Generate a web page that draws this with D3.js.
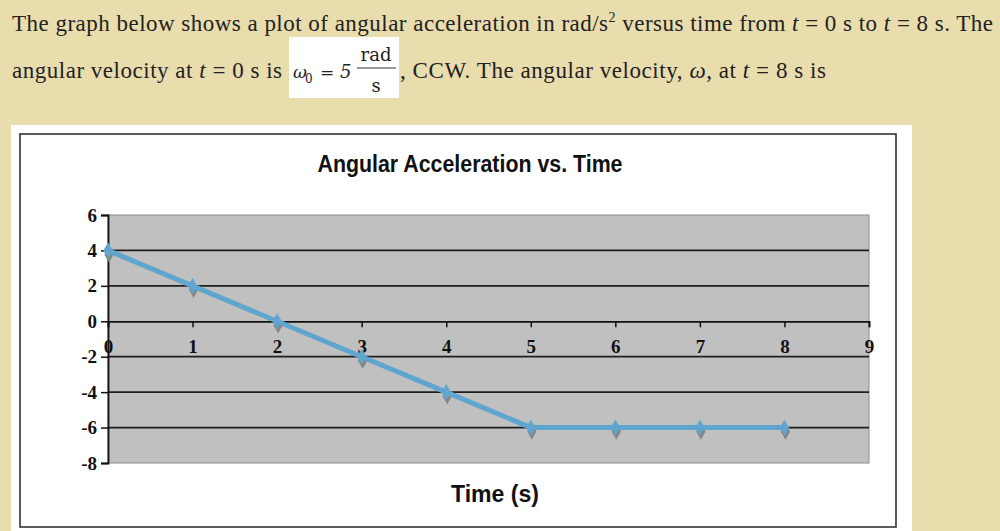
<!DOCTYPE html>
<html>
<head>
<meta charset="utf-8">
<script src="https://cdn.jsdelivr.net/npm/d3@7"></script>
<style>
  html, body { margin: 0; padding: 0; background: #e9dcad; }
  svg { display: block; }
</style>
</head>
<body>
<svg width="1000" height="531"></svg>
<script>
// data
const times = [0, 1, 2, 3, 4, 5, 6, 7, 8];
const alpha = [4, 2, 0, -2, -4, -6, -6, -6, -6];
const yTicks = [-8, -6, -4, -2, 0, 2, 4, 6];
const xTicks = [0, 1, 2, 3, 4, 5, 6, 7, 8, 9];
const gridVals = [4, 2, -2, -4, -6];

const svg = d3.select('svg');
const lineColour = '#5fa5cd';

// paper background
svg.append('rect').attr('width', 1000).attr('height', 531).attr('fill', '#e9dcad');

// question text
const serif = '"Liberation Serif", "Times New Roman", serif';
let t1 = svg.append('text').attr('x', 12).attr('y', 31)
  .attr('font-family', serif).attr('font-size', 23).attr('fill', '#222')
  .attr('textLength', 981).attr('lengthAdjust', 'spacing');
t1.append('tspan').text('The graph below shows a plot of angular acceleration in rad/s');
t1.append('tspan').attr('font-size', 14).attr('dy', -9).text('2');
t1.append('tspan').attr('dy', 9).text(' versus time from ');
t1.append('tspan').attr('font-style', 'italic').text('t');
t1.append('tspan').text(' = 0 s to ');
t1.append('tspan').attr('font-style', 'italic').text('t');
t1.append('tspan').text(' = 8 s. The');

let t2 = svg.append('text').attr('x', 12).attr('y', 78)
  .attr('font-family', serif).attr('font-size', 23).attr('fill', '#222')
  .attr('textLength', 270).attr('lengthAdjust', 'spacing');
t2.append('tspan').text('angular velocity at ');
t2.append('tspan').attr('font-style', 'italic').text('t');
t2.append('tspan').text(' = 0 s is');

let t3 = svg.append('text').attr('x', 400).attr('y', 78)
  .attr('font-family', serif).attr('font-size', 23).attr('fill', '#222')
  .attr('textLength', 426).attr('lengthAdjust', 'spacing');
t3.append('tspan').text(', CCW. The angular velocity, ');
t3.append('tspan').attr('font-style', 'italic').text('ω');
t3.append('tspan').text(', at ');
t3.append('tspan').attr('font-style', 'italic').text('t');
t3.append('tspan').text(' = 8 s is');

// formula box
const fx = svg.append('g');
fx.append('rect').attr('x', 289).attr('y', 37).attr('width', 110).attr('height', 61).attr('fill', '#fff');
const mathFont = '"DejaVu Serif", serif';
fx.append('text').attr('x', 293).attr('y', 78).attr('font-family', mathFont)
  .attr('font-style', 'italic').attr('font-size', 17).attr('fill', '#222').text('ω');
fx.append('text').attr('x', 305).attr('y', 83).attr('font-family', mathFont)
  .attr('font-size', 12).attr('fill', '#222').text('0');
fx.append('text').attr('x', 320).attr('y', 78).attr('font-family', mathFont)
  .attr('font-size', 17).attr('fill', '#222').text('=');
fx.append('text').attr('x', 340).attr('y', 78).attr('font-family', mathFont)
  .attr('font-style', 'italic').attr('font-size', 18).attr('fill', '#222').text('5');
fx.append('text').attr('x', 376).attr('y', 61).attr('text-anchor', 'middle').attr('font-family', mathFont)
  .attr('font-size', 18).attr('fill', '#222').text('rad');
fx.append('line').attr('x1', 357).attr('x2', 396).attr('y1', 68).attr('y2', 68)
  .attr('stroke', '#333').attr('stroke-width', 1.2);
fx.append('text').attr('x', 376).attr('y', 92).attr('text-anchor', 'middle').attr('font-family', mathFont)
  .attr('font-size', 18).attr('fill', '#222').text('s');

// chart frame
svg.append('rect').attr('x', 11).attr('y', 125).attr('width', 901).attr('height', 410).attr('fill', '#fff');
svg.append('rect').attr('x', 20).attr('y', 134).attr('width', 876).attr('height', 393)
  .attr('fill', 'none').attr('stroke', '#333').attr('stroke-width', 1.6);

const x = d3.scaleLinear().domain([0, 9]).range([108, 869]);
const y = d3.scaleLinear().domain([-8, 6]).range([463, 215]);

// plot area
svg.append('rect').attr('x', x(0)).attr('y', y(6)).attr('width', x(9) - x(0)).attr('height', y(-8) - y(6))
  .attr('fill', '#c0c0c0').attr('stroke', '#8c8c8c').attr('stroke-width', 1);

svg.append('g').selectAll('line').data(gridVals).join('line')
  .attr('x1', x(0)).attr('x2', x(9))
  .attr('y1', d => y(d)).attr('y2', d => y(d))
  .attr('stroke', '#1e1e1e').attr('stroke-width', 1.8);

const tickFont = '"Liberation Serif", "Times New Roman", serif';

const yAxis = svg.append('g').attr('transform', `translate(${x(0)},0)`)
  .call(d3.axisLeft(y).tickValues(yTicks).tickSize(7).tickPadding(4).tickFormat(d => String(d)));
yAxis.select('.domain').attr('stroke', '#111').attr('stroke-width', 1.8);
yAxis.selectAll('.tick line').attr('stroke', '#111').attr('stroke-width', 1.5);
yAxis.selectAll('text').attr('font-family', tickFont).attr('font-weight', 'bold')
  .attr('font-size', 19).attr('fill', '#111');

const xAxis = svg.append('g').attr('transform', `translate(0,${y(0)})`)
  .call(d3.axisBottom(x).tickValues(xTicks).tickSize(6).tickPadding(12).tickFormat(d => String(d)));
xAxis.select('.domain').attr('stroke', '#111').attr('stroke-width', 1.8);
xAxis.selectAll('.tick line').attr('stroke', '#111').attr('stroke-width', 1.5);
xAxis.selectAll('text').attr('font-family', tickFont).attr('font-weight', 'bold')
  .attr('font-size', 19).attr('fill', '#111');

// series
const pts = times.map((t, i) => ({t: t, a: alpha[i]}));
const diamond = d3.symbol().type(d3.symbolDiamond).size(75);

svg.append('g').selectAll('path').data(pts).join('path')
  .attr('d', diamond)
  .attr('transform', d => `translate(${x(d.t) + 1},${y(d.a) + 4})`)
  .attr('fill', '#858585');

svg.append('path').datum(pts)
  .attr('d', d3.line().x(d => x(d.t)).y(d => y(d.a)))
  .attr('fill', 'none').attr('stroke', lineColour).attr('stroke-width', 5)
  .attr('stroke-linejoin', 'round');

svg.append('g').selectAll('path').data(pts).join('path')
  .attr('d', diamond)
  .attr('transform', d => `translate(${x(d.t)},${y(d.a)})`)
  .attr('fill', lineColour);

// titles
const sansNarrow = '"Liberation Sans Narrow", "Arial Narrow", "Liberation Sans", Arial, sans-serif';
svg.append('text').attr('x', 470).attr('y', 172).attr('text-anchor', 'middle')
  .attr('font-family', sansNarrow).attr('font-weight', 'bold').attr('font-size', 23)
  .attr('fill', '#111').attr('textLength', 305).attr('lengthAdjust', 'spacingAndGlyphs')
  .text('Angular Acceleration vs. Time');

svg.append('text').attr('x', 495).attr('y', 502).attr('text-anchor', 'middle')
  .attr('font-family', sansNarrow).attr('font-weight', 'bold').attr('font-size', 23)
  .attr('fill', '#111').attr('textLength', 88).attr('lengthAdjust', 'spacingAndGlyphs')
  .text('Time (s)');
</script>
</body>
</html>
